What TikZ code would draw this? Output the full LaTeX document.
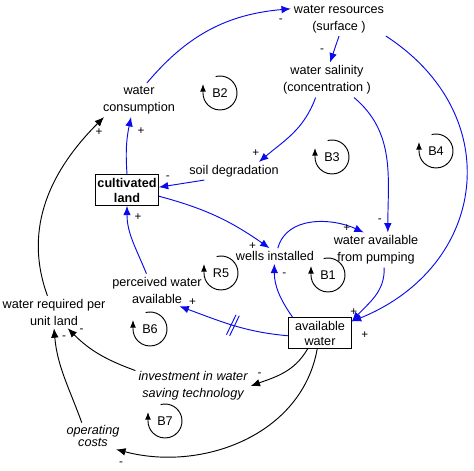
\documentclass[tikz,border=0pt]{standalone}
\usepackage{fontspec}
\setmainfont{Liberation Sans}
\usetikzlibrary{arrows.meta}
\definecolor{linkblue}{RGB}{10,10,235}
\tikzstyle{var} = [align=center, inner sep=2.5pt, font=\fontsize{10.8}{14.5}\selectfont]
\tikzstyle{ivar} = [var, font=\fontsize{10.8}{14.5}\selectfont\itshape]
\tikzstyle{block} = [var, draw, line width=0.6pt, inner sep=1pt, minimum width=1.89cm, minimum height=0.93cm]
\tikzstyle{line} = [draw, linkblue, line width=0.8pt, -{Latex[length=8pt,width=6.5pt]}]
\tikzstyle{bline} = [line, black]
\tikzstyle{sign} = [inner sep=0pt, text=black, font=\fontsize{10}{10}\selectfont]
\tikzstyle{delay} = [inner sep=0pt, minimum width=5pt, minimum height=18pt]
\tikzstyle{loopmark} = [draw, line width=0.8pt, -{Latex[length=6.5pt,width=5pt]}]

\begin{document}
\begin{tikzpicture}[x=0.03cm, y=0.03cm]
    \useasboundingbox (0,0) rectangle (474,470);
    \node[var] (WR) at (339,451) {water resources\\(surface )};
    \node[var] (WS) at (327,390) {water salinity\\(concentration )};
    \node[var] (WC) at (139,370) {water\\consumption};
    \node[var] (SD) at (234,299) {soil degradation};
    \node[block, font=\fontsize{10.8}{12.8}\selectfont\bfseries] (CL) at (127,280) {cultivated\\land};
    \node[var] (WI) at (275,214) {wells installed};
    \node[var] (WP) at (376,220) {water available\\from pumping};
    \node[var] (PW) at (157,180) {perceived water\\available};
    \node[var] (WRQ) at (54,158) {water required per\\unit land};
    \node[block, font=\fontsize{10.8}{12.8}\selectfont] (AW) at (320,137) {available\\water};
    \node[ivar] (IWS) at (193,84) {investment in water\\saving technology};
    \node[ivar] (OC) at (93,34) {operating\\[-5pt]costs};
    \foreach \x/\y/\n in {220/377/B2, 332/313/B3, 436/319/B4, 221/197/R5, 328/195/B1, 150/141/B6, 165/49/B7} {
        \node[var] (\n) at (\x,\y) {\n};
        \draw[loopmark] (\x,\y) ++(105:17) arc[start angle=105, end angle=-180, radius=17] -- ++(0,9);
    }
    \path[line] (WC.65) to[out=50, in=185] node[sign, at end, shift={(-10,-12)}] {-} (WR.168);
    \path[line] (WR.south) -- node[sign, at end, shift={(-8,12)}] {-} (WS.80);
    \path[line] (WS.237) to[out=250, in=40] node[sign, at end, shift={(-3,9)}] {+} (SD.20);
    \path[line] (WS.-33) to[out=-40, in=90] node[sign, at end, shift={(-8,12)}] {-} (WP.56);
    \path[line] (WR.-20) to[out=-33, in=22, looseness=1.3] node[sign, at end, shift={(13,-14)}] {+} (AW.20);
    \path[line] (WP.-65) to[out=-88, in=48] node[sign, at end, shift={(2,9)}] {+} (AW.20);
    \path[line] (SD.197) -- node[sign, at end, shift={(9,9)}] {-} (CL.5);
    \path[line] (CL.north) to[bend left=8] node[sign, at end, shift={(10,-14)}] {+} (WC.245);
    \path[line] (CL.-11) to[out=-15, in=145] node[sign, at end, shift={(-17,2)}] {+} (WI.125);
    \path[line] (WI.70) to[out=75, in=155] node[sign, at end, shift={(-17,4)}] {+} (WP.125);
    \path[line] (AW.150) to[out=125, in=-90] node[sign, at end, shift={(10,-11)}] {-} (WI.265);
    \path[line] (AW.185) to[out=175, in=-20] node[delay, pos=0.5, sloped] (DM) {} node[sign, at end, shift={(13,4)}] {+} (PW.-36);
    \draw[linkblue, line width=0.8pt] (DM.north) -- (DM.south west) (DM.north east) -- (DM.south);
    \path[line] (PW.123) to[out=112, in=-90] node[sign, at end, shift={(11,-11)}] {+} (CL.south);
    \path[bline] (WRQ.112) to[out=110, in=225] node[sign, at end, shift={(-5,-15)}] {+} (WC.206);
    \path[bline] (IWS.165) to[out=160, in=-45] node[sign, at end, shift={(14,-2)}] {-} (WRQ.-50);
    \path[bline] (OC.130) to[out=110, in=-85] node[sign, at end, shift={(10,-9)}] {-} (WRQ.south);
    \path[bline] (AW.232) to[out=-120, in=20] node[sign, at end, shift={(9,11)}] {-} (IWS.east);
    \path[bline] (AW.260) to[out=-100, in=-15] node[sign, at end, shift={(5,-14)}] {-} (OC.-30);
\end{tikzpicture}
\end{document}
